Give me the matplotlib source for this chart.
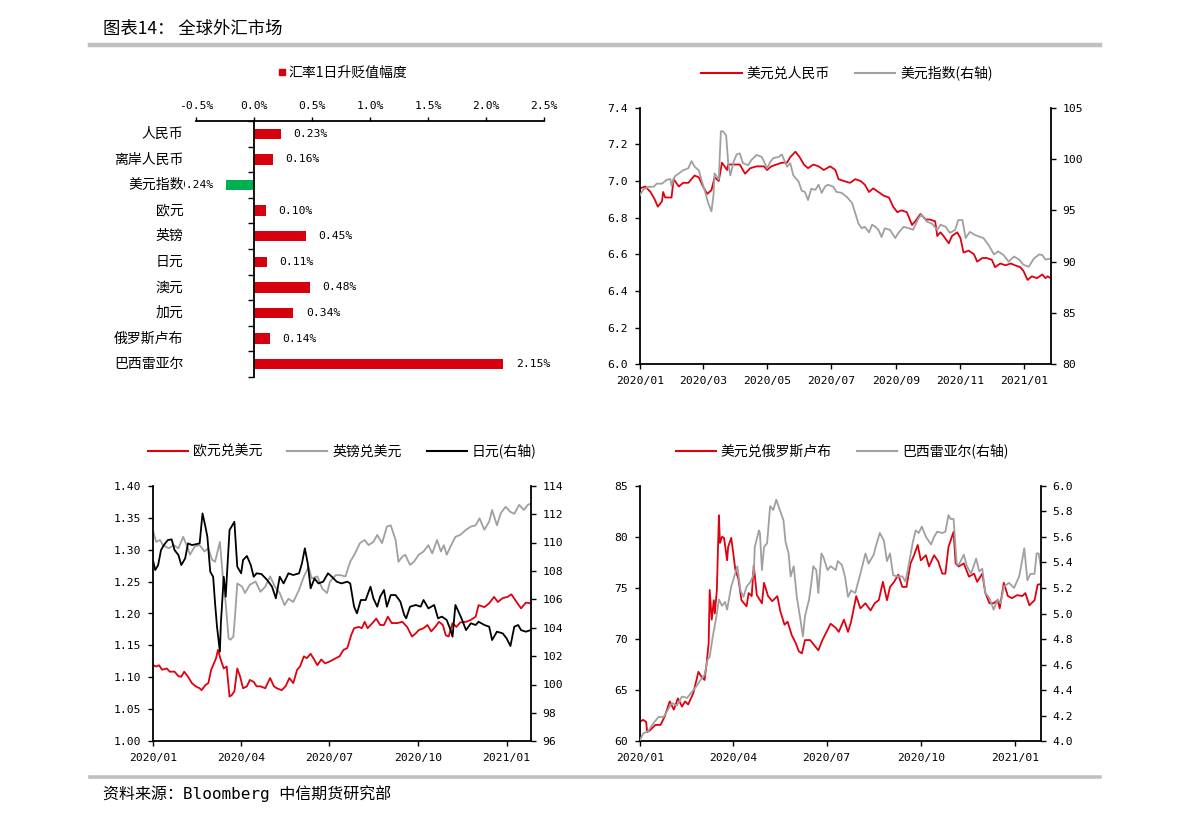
import numpy as np
import matplotlib
matplotlib.use('Agg')
import matplotlib.pyplot as plt
import matplotlib.dates as mdates
from matplotlib.lines import Line2D

plt.rcParams['font.family'] = ['DejaVu Sans Mono', 'Noto Sans CJK SC']
CJK = ['Noto Sans CJK SC', 'DejaVu Sans']

RED = '#e0000f'
BAR_RED = '#d7000f'
GREEN = '#00b050'
GRAY = '#a0a0a0'

# ---- bar chart: 1-day change ----
bar_cats = ['人民币', '离岸人民币', '美元指数', '欧元', '英镑', '日元', '澳元', '加元', '俄罗斯卢布', '巴西雷亚尔']
bar_vals = [0.23, 0.16, -0.24, 0.10, 0.45, 0.11, 0.48, 0.34, 0.14, 2.15]

# ---- USD/CNY and dollar index (days since 2020-01-01) ----
cny_day = [0, 5, 10, 14, 17, 21, 22, 24, 30, 32, 37, 41, 46, 52, 56, 60, 64, 68, 71, 75,
           78, 83, 84, 89, 95, 100, 105, 111, 118, 121, 125, 130, 135, 140, 143, 148, 152, 156, 160, 165,
           170, 175, 181, 186, 189, 194, 200, 205, 210, 214, 218, 222, 227, 232, 237, 241, 245, 249, 254, 259,
           262, 267, 272, 276, 281, 283, 286, 289, 294, 297, 302, 305, 308, 313, 318, 321, 326, 330, 335, 338,
           343, 348, 353, 357, 362, 365, 369, 373, 378, 383, 386, 388, 391]
cny_val = [6.96, 6.97, 6.94, 6.90, 6.86, 6.89, 6.94, 6.91, 6.91, 7.01, 6.97, 6.99, 6.99, 7.03, 7.02, 6.97, 6.93, 6.95, 7.02, 7.00,
           7.10, 7.06, 7.09, 7.09, 7.09, 7.04, 7.07, 7.08, 7.08, 7.06, 7.08, 7.09, 7.10, 7.10, 7.13, 7.16, 7.13, 7.09, 7.07, 7.09,
           7.08, 7.06, 7.08, 7.06, 7.01, 7.00, 6.99, 7.01, 7.00, 6.98, 6.94, 6.96, 6.94, 6.92, 6.91, 6.86, 6.83, 6.84, 6.83, 6.76,
           6.78, 6.82, 6.79, 6.79, 6.78, 6.70, 6.72, 6.70, 6.66, 6.70, 6.72, 6.69, 6.61, 6.62, 6.60, 6.56, 6.58, 6.58, 6.57, 6.53,
           6.55, 6.54, 6.55, 6.54, 6.53, 6.51, 6.46, 6.48, 6.47, 6.49, 6.47, 6.48, 6.47]
dxy_day = [0, 3, 8, 13, 16, 21, 25, 29, 30, 33, 37, 41, 46, 49, 52, 56, 59, 62, 65, 68,
           70, 71, 75, 77, 79, 82, 84, 86, 89, 92, 95, 98, 103, 106, 111, 116, 121, 124, 127, 132,
           135, 140, 143, 146, 151, 154, 157, 160, 163, 167, 170, 173, 176, 179, 184, 187, 192, 197, 202, 205,
           208, 211, 214, 218, 221, 224, 227, 230, 233, 238, 243, 246, 251, 256, 260, 265, 268, 273, 278, 283,
           286, 291, 295, 300, 303, 307, 310, 314, 319, 324, 327, 332, 337, 341, 346, 351, 356, 361, 365, 370,
           375, 380, 383, 386, 391]
dxy_val = [96.5, 97.0, 97.3, 97.3, 97.6, 97.6, 97.95, 98.05, 97.4, 98.3, 98.6, 98.9, 99.1, 99.8, 99.25, 98.9, 97.8, 96.8, 95.7, 94.9,
           96.5, 98.6, 98.0, 102.7, 102.7, 102.3, 99.6, 98.4, 99.7, 100.45, 100.55, 99.6, 99.4, 99.9, 100.4, 100.2, 99.1, 99.7, 100.1, 100.2,
           100.45, 99.25, 99.6, 98.4, 97.8, 96.9, 96.8, 96.0, 97.1, 97.0, 97.5, 96.7, 97.3, 97.5, 97.3, 96.8, 96.7, 96.3, 95.7, 94.7,
           93.7, 93.25, 93.4, 92.85, 93.6, 93.4, 93.1, 92.4, 93.25, 93.1, 92.3, 92.8, 93.4, 93.25, 93.1, 94.2, 94.6, 93.9, 93.7, 93.1,
           93.6, 93.4, 92.8, 93.1, 94.05, 94.05, 92.3, 92.9, 92.6, 92.4, 92.3, 91.6, 90.7, 91.0, 90.65, 90.0, 90.5, 90.2, 89.7, 89.5,
           90.3, 90.7, 90.65, 90.2, 90.3]

# ---- EUR/USD, GBP/USD, USD/JPY ----
eur_day = [0, 3, 6, 9, 14, 17, 22, 26, 29, 32, 36, 40, 44, 48, 50, 54, 57, 60, 62, 65,
           67, 70, 73, 76, 79, 81, 84, 87, 90, 93, 97, 100, 104, 107, 111, 116, 121, 125, 128, 133,
           137, 141, 145, 149, 152, 156, 159, 163, 167, 170, 174, 178, 183, 189, 193, 197, 201, 205, 208, 213,
           216, 219, 222, 227, 231, 235, 239, 243, 247, 253, 258, 263, 268, 272, 275, 280, 284, 288, 292, 296,
           300, 303, 306, 310, 314, 318, 324, 329, 334, 337, 343, 348, 353, 357, 362, 367, 371, 375, 381, 386, 391]
eur_val = [1.119, 1.117, 1.119, 1.112, 1.114, 1.109, 1.109, 1.102, 1.101, 1.109, 1.101, 1.091, 1.086, 1.083, 1.080, 1.088, 1.091, 1.112, 1.119, 1.130,
           1.143, 1.127, 1.114, 1.117, 1.070, 1.072, 1.078, 1.114, 1.101, 1.083, 1.086, 1.096, 1.093, 1.086, 1.086, 1.083, 1.099, 1.086, 1.083, 1.080,
           1.086, 1.099, 1.091, 1.112, 1.117, 1.133, 1.130, 1.137, 1.127, 1.119, 1.128, 1.122, 1.125, 1.130, 1.133, 1.143, 1.146, 1.166, 1.177, 1.179,
           1.177, 1.187, 1.177, 1.185, 1.192, 1.182, 1.182, 1.195, 1.185, 1.185, 1.187, 1.179, 1.164, 1.169, 1.174, 1.177, 1.182, 1.172, 1.179, 1.187,
           1.182, 1.166, 1.164, 1.185, 1.179, 1.186, 1.187, 1.190, 1.195, 1.213, 1.210, 1.216, 1.226, 1.218, 1.224, 1.226, 1.230, 1.221, 1.208, 1.217, 1.216]
gbp_day = [0, 3, 7, 10, 16, 21, 26, 31, 35, 38, 43, 48, 53, 57, 61, 64, 69, 72, 75, 78,
           80, 83, 85, 87, 92, 95, 100, 106, 111, 116, 121, 126, 131, 136, 140, 145, 151, 156, 161, 164,
           170, 175, 180, 183, 189, 194, 199, 204, 209, 214, 219, 223, 228, 232, 237, 242, 246, 251, 254, 258,
           261, 266, 270, 275, 280, 285, 289, 294, 298, 301, 304, 308, 313, 318, 324, 329, 334, 338, 343, 348,
           351, 356, 360, 365, 370, 374, 379, 384, 388, 391]
gbp_val = [1.328, 1.312, 1.315, 1.307, 1.302, 1.307, 1.302, 1.320, 1.305, 1.292, 1.305, 1.307, 1.297, 1.302, 1.284, 1.281, 1.312, 1.258, 1.216, 1.161,
           1.159, 1.164, 1.203, 1.247, 1.242, 1.232, 1.245, 1.250, 1.234, 1.242, 1.258, 1.242, 1.232, 1.213, 1.223, 1.218, 1.237, 1.258, 1.273, 1.255,
           1.258, 1.239, 1.232, 1.250, 1.260, 1.260, 1.258, 1.281, 1.294, 1.310, 1.315, 1.307, 1.312, 1.323, 1.310, 1.336, 1.338, 1.315, 1.281, 1.289,
           1.292, 1.276, 1.281, 1.292, 1.297, 1.307, 1.294, 1.315, 1.297, 1.307, 1.292, 1.305, 1.320, 1.323, 1.331, 1.336, 1.338, 1.349, 1.331, 1.344,
           1.362, 1.338, 1.357, 1.367, 1.359, 1.356, 1.370, 1.362, 1.370, 1.372]
jpy_day = [0, 2, 5, 8, 11, 15, 19, 22, 26, 29, 33, 36, 40, 45, 48, 51, 54, 56, 59, 62,
           64, 66, 69, 70, 73, 75, 79, 81, 84, 87, 91, 93, 97, 101, 104, 107, 112, 118, 123, 127,
           131, 135, 140, 145, 151, 154, 157, 160, 163, 167, 171, 176, 181, 185, 190, 195, 201, 204, 208, 211,
           215, 220, 225, 228, 232, 235, 239, 242, 246, 251, 256, 260, 262, 266, 272, 277, 280, 285, 291, 295,
           299, 304, 308, 310, 313, 317, 320, 324, 329, 334, 337, 343, 348, 351, 356, 362, 366, 370, 374, 378,
           381, 386, 391]
jpy_val = [108.65, 108.06, 108.41, 109.47, 109.82, 110.17, 110.22, 109.47, 109.12, 108.41, 108.88, 109.94, 109.82, 109.89, 109.94, 112.05, 111.11, 110.41, 107.94, 107.59,
           105.71, 104.07, 102.31, 104.31, 107.59, 106.18, 110.88, 111.11, 111.46, 108.30, 107.83, 108.77, 109.05, 108.41, 107.59, 107.83, 107.78, 107.36, 106.89, 106.07,
           107.59, 107.12, 107.83, 107.71, 107.83, 108.53, 109.59, 108.53, 106.77, 107.47, 107.12, 107.24, 107.83, 107.59, 107.24, 107.12, 107.24, 107.12, 105.48, 105.01,
           105.95, 105.95, 106.89, 106.07, 105.48, 106.18, 106.65, 105.48, 106.30, 106.30, 105.83, 104.89, 104.66, 105.48, 105.60, 105.48, 105.95, 105.36, 105.60, 104.66,
           104.78, 104.54, 103.83, 103.37, 105.60, 105.01, 104.54, 103.83, 104.31, 104.19, 104.42, 104.19, 104.07, 103.13, 103.72, 103.60, 103.25, 102.71, 104.07, 104.19,
           103.83, 103.72, 103.83]

# ---- USD/RUB and USD/BRL ----
rub_day = [0, 3, 6, 7, 10, 15, 20, 24, 29, 33, 37, 41, 44, 47, 52, 57, 60, 63, 65, 67,
           68, 70, 72, 73, 75, 77, 78, 80, 82, 85, 86, 89, 91, 93, 96, 99, 104, 106, 109, 111,
           114, 119, 121, 125, 129, 134, 137, 141, 144, 148, 152, 155, 158, 161, 166, 170, 174, 178, 182, 186,
           191, 194, 199, 203, 206, 211, 215, 220, 225, 229, 233, 237, 241, 244, 248, 252, 256, 260, 264, 267,
           271, 274, 279, 282, 287, 291, 295, 298, 301, 306, 308, 311, 316, 321, 326, 329, 334, 337, 341, 345,
           349, 351, 355, 359, 363, 368, 373, 376, 380, 385, 388, 391]
rub_val = [61.9, 62.1, 61.9, 60.9, 61.1, 61.6, 61.6, 62.4, 63.9, 63.1, 64.2, 63.4, 63.9, 63.6, 64.7, 66.8, 66.3, 66.0, 67.6, 69.6,
           74.8, 71.9, 73.8, 72.5, 74.8, 82.1, 79.4, 80.0, 79.9, 77.7, 79.0, 79.9, 78.4, 76.8, 75.9, 73.8, 73.2, 74.5, 74.2, 77.2,
           74.3, 73.5, 75.5, 74.2, 73.7, 74.2, 72.7, 71.4, 71.7, 70.4, 69.6, 68.8, 68.6, 69.9, 69.9, 69.4, 68.9, 69.9, 70.7, 71.5,
           71.1, 70.7, 71.9, 70.7, 71.7, 74.2, 73.0, 73.5, 72.8, 73.5, 73.8, 75.6, 73.8, 75.1, 75.6, 76.3, 75.1, 75.1, 77.4, 78.1,
           79.2, 77.7, 78.2, 77.1, 78.2, 77.6, 76.4, 76.4, 79.0, 80.5, 77.4, 77.1, 77.4, 76.1, 76.4, 75.6, 76.4, 74.5, 73.5, 73.5,
           73.8, 73.0, 75.5, 74.2, 74.0, 74.3, 74.2, 74.5, 73.3, 73.8, 75.3, 75.4]
brl_day = [0, 3, 8, 13, 18, 23, 26, 31, 36, 41, 46, 51, 55, 59, 63, 66, 68, 71, 74, 77,
           80, 83, 85, 89, 92, 95, 98, 101, 104, 108, 111, 112, 116, 117, 119, 121, 124, 127, 130, 133,
           136, 140, 142, 145, 147, 150, 153, 156, 159, 161, 165, 168, 169, 172, 174, 177, 179, 183, 186, 191,
           193, 197, 200, 203, 206, 210, 215, 220, 223, 228, 231, 234, 238, 241, 244, 247, 251, 256, 259, 262,
           266, 269, 272, 275, 279, 284, 287, 290, 295, 298, 301, 303, 306, 309, 311, 316, 319, 323, 328, 331,
           334, 337, 341, 345, 349, 352, 355, 360, 365, 370, 373, 375, 378, 381, 385, 387, 389, 391]
brl_val = [4.01, 4.06, 4.08, 4.14, 4.19, 4.19, 4.23, 4.30, 4.28, 4.35, 4.34, 4.39, 4.43, 4.48, 4.52, 4.64, 4.66, 4.82, 4.95, 5.11,
           5.06, 5.09, 5.03, 5.21, 5.29, 5.37, 5.18, 5.13, 5.21, 5.25, 5.31, 5.52, 5.65, 5.63, 5.34, 5.52, 5.55, 5.84, 5.81, 5.89,
           5.82, 5.73, 5.56, 5.47, 5.29, 5.37, 5.13, 4.98, 4.82, 4.98, 5.11, 5.29, 5.37, 5.34, 5.16, 5.47, 5.44, 5.34, 5.37, 5.34,
           5.41, 5.38, 5.29, 5.13, 5.18, 5.16, 5.31, 5.47, 5.39, 5.46, 5.55, 5.63, 5.57, 5.41, 5.47, 5.30, 5.29, 5.29, 5.25, 5.37,
           5.55, 5.65, 5.63, 5.68, 5.60, 5.54, 5.60, 5.64, 5.63, 5.64, 5.77, 5.74, 5.74, 5.39, 5.38, 5.46, 5.37, 5.31, 5.43, 5.33,
           5.35, 5.16, 5.12, 5.03, 5.11, 5.08, 5.21, 5.24, 5.20, 5.29, 5.42, 5.51, 5.26, 5.31, 5.31, 5.47, 5.47, 5.37]


def to_dates(days):
    return np.datetime64('2020-01-01') + np.array(days).astype('timedelta64[D]')


XMIN, XMAX = np.datetime64('2020-01-01'), np.datetime64('2021-01-26')
W, H = 1191, 822

fig = plt.figure(figsize=(W / 100, H / 100), dpi=100)


def rect(l, t, r, b):
    return [l / W, 1 - b / H, (r - l) / W, (b - t) / H]


def style_pair(ax, ax2, months):
    ax.set_xlim(XMIN, XMAX)
    ax.set_xticks([np.datetime64(m) for m in months])
    ax.xaxis.set_major_formatter(mdates.DateFormatter('%Y/%m'))
    ax.spines['top'].set_visible(False)
    ax.spines['right'].set_visible(False)
    for s in ('top', 'left', 'bottom'):
        ax2.spines[s].set_visible(False)
    for a in (ax, ax2):
        for s in a.spines.values():
            s.set_linewidth(1.3)
        a.tick_params(direction='out', length=3.5, width=1.0, labelsize=8.2, pad=5)


def legend(ax, handles, labels, cx, cy):
    ax.legend(handles, labels, loc='center', bbox_to_anchor=(cx / W, 1 - cy / H),
              bbox_transform=fig.transFigure, ncol=len(handles), frameon=False,
              prop={'family': CJK, 'size': 10}, handlelength=2.9,
              handletextpad=0.35, columnspacing=1.8)


# ---------------- title and rules ----------------
fig.text(103 / W, 1 - 29 / H, '图表14： 全球外汇市场', family=CJK, fontsize=12.5, va='center')
fig.add_artist(Line2D([90 / W, 1100 / W], [1 - 45.5 / H] * 2, color='#c0c0c0', lw=3.2))
fig.add_artist(Line2D([90 / W, 1100 / W], [1 - 777 / H] * 2, color='#c0c0c0', lw=2.6))
fig.text(103 / W, 1 - 794 / H, '资料来源：Bloomberg 中信期货研究部',
         family=['DejaVu Sans Mono', 'Noto Sans CJK SC'], fontsize=11.5, va='center')

# ---------------- bar chart ----------------
axb = fig.add_axes(rect(196, 121, 544, 377))
ypos = np.arange(len(bar_cats))
colors = [GREEN if v < 0 else BAR_RED for v in bar_vals]
axb.barh(ypos, bar_vals, height=0.4, color=colors)
axb.set_xlim(-0.5, 2.5)
axb.set_ylim(len(bar_cats) - 0.5, -0.5)
xt = [-0.5, 0.0, 0.5, 1.0, 1.5, 2.0, 2.5]
axb.xaxis.tick_top()
axb.set_xticks(xt)
axb.set_xticklabels([f'{v:.1f}%' for v in xt])
axb.spines['left'].set_position(('data', 0))
axb.spines['right'].set_visible(False)
axb.spines['bottom'].set_visible(False)
for s in axb.spines.values():
    s.set_linewidth(1.3)
axb.set_yticks(np.arange(-0.5, len(bar_cats), 1))
axb.tick_params(axis='y', direction='out', length=4, width=1.0, labelleft=False)
axb.tick_params(axis='x', direction='out', length=3, width=1.0, labelsize=8.2, pad=4)
for i, v in enumerate(bar_vals):
    axb.annotate(f'{v:.2f}%', xy=(v, i), xytext=(9 if v >= 0 else -9, 0),
                 textcoords='offset points', ha='left' if v >= 0 else 'right',
                 va='center', fontsize=8.2, annotation_clip=False)
for i, c in enumerate(bar_cats):
    axb.annotate(c, xy=(0, i), xycoords=axb.get_yaxis_transform(), xytext=(-9, 0),
                 textcoords='offset points', ha='right', va='center', family=CJK,
                 fontsize=10, bbox=dict(fc='white', ec='none', pad=0), annotation_clip=False)
fig.legend([Line2D([], [], marker='s', ls='none', color=BAR_RED, markersize=5)],
           ['汇率1日升贬值幅度'], loc='center', bbox_to_anchor=(342 / W, 1 - 73 / H),
           frameon=False, prop={'family': CJK, 'size': 10}, handletextpad=0.1,
           handlelength=0.8)

# ---------------- USD/CNY vs DXY ----------------
ax1 = fig.add_axes(rect(640, 107.7, 1050.7, 364.3))
ax1b = ax1.twinx()
l1, = ax1.plot(to_dates(cny_day), cny_val, color=RED, lw=1.3)
l2, = ax1b.plot(to_dates(dxy_day), dxy_val, color=GRAY, lw=1.3)
ax1.set_ylim(6.0, 7.4)
ax1.set_yticks(np.arange(6.0, 7.41, 0.2))
ax1.yaxis.set_major_formatter(plt.FormatStrFormatter('%.1f'))
ax1b.set_ylim(80, 105)
ax1b.set_yticks(range(80, 106, 5))
style_pair(ax1, ax1b, ['2020-01-01', '2020-03-01', '2020-05-01', '2020-07-01',
                       '2020-09-01', '2020-11-01', '2021-01-01'])
legend(ax1b, [Line2D([], [], color=RED, lw=1.5), Line2D([], [], color=GRAY, lw=1.5)],
       ['美元兑人民币', '美元指数(右轴)'], 847, 73)

# ---------------- EUR, GBP, JPY ----------------
ax2 = fig.add_axes(rect(153.3, 485.7, 530.7, 741.3))
ax2b = ax2.twinx()
ax2.plot(to_dates(eur_day), eur_val, color=RED, lw=1.3)
ax2.plot(to_dates(gbp_day), gbp_val, color=GRAY, lw=1.3)
ax2b.plot(to_dates(jpy_day), jpy_val, color='black', lw=1.3)
ax2.set_ylim(1.0, 1.4)
ax2.set_yticks(np.arange(1.0, 1.401, 0.05))
ax2.yaxis.set_major_formatter(plt.FormatStrFormatter('%.2f'))
ax2b.set_ylim(96, 114)
ax2b.set_yticks(range(96, 115, 2))
style_pair(ax2, ax2b, ['2020-01-01', '2020-04-01', '2020-07-01', '2020-10-01', '2021-01-01'])
legend(ax2b, [Line2D([], [], color=RED, lw=1.5), Line2D([], [], color=GRAY, lw=1.5),
              Line2D([], [], color='black', lw=1.5)],
       ['欧元兑美元', '英镑兑美元', '日元(右轴)'], 342, 451)

# ---------------- RUB, BRL ----------------
ax3 = fig.add_axes(rect(640, 485.7, 1040.7, 741.3))
ax3b = ax3.twinx()
ax3.plot(to_dates(rub_day), rub_val, color=RED, lw=1.3)
ax3b.plot(to_dates(brl_day), brl_val, color=GRAY, lw=1.3)
ax3.set_ylim(60, 85)
ax3.set_yticks(range(60, 86, 5))
ax3b.set_ylim(4.0, 6.0)
ax3b.set_yticks(np.arange(4.0, 6.01, 0.2))
ax3b.yaxis.set_major_formatter(plt.FormatStrFormatter('%.1f'))
style_pair(ax3, ax3b, ['2020-01-01', '2020-04-01', '2020-07-01', '2020-10-01', '2021-01-01'])
legend(ax3b, [Line2D([], [], color=RED, lw=1.5), Line2D([], [], color=GRAY, lw=1.5)],
       ['美元兑俄罗斯卢布', '巴西雷亚尔(右轴)'], 842, 451)

fig.savefig('out.png', dpi=100)
